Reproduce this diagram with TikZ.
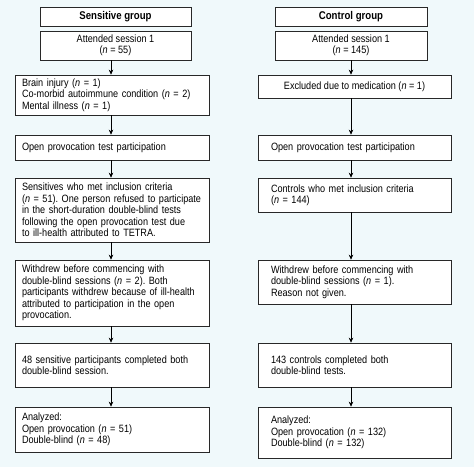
\documentclass[tikz,border=0pt]{standalone}
\usepackage{fontspec}
\setmainfont{Liberation Sans}[FakeStretch=0.86]
\usetikzlibrary{arrows.meta}
\definecolor{bgc}{RGB}{240,249,251}
\definecolor{linec}{RGB}{40,40,40}
\frenchspacing
\begin{document}
\begin{tikzpicture}[x=1pt,y=-1pt,
  box/.style={draw=linec,line width=0.7pt,fill=white,rectangle,inner sep=0pt,font=\fontsize{10.6}{11.4}\selectfont},
  lbox/.style={box,minimum width=194pt,text width=180pt,align=left},
  rbox/.style={box,minimum width=193pt,text width=167pt,align=left},
  cbox/.style={box,align=center},
  hbox/.style={cbox,font=\fontsize{11.2}{12}\selectfont\bfseries},
  arr/.style={-{Stealth[length=5pt,width=4.5pt]},line width=0.7pt,draw=black}]
\fill[bgc] (0,0) rectangle (474,467);
\useasboundingbox (0,0) rectangle (474,467);
\coordinate (lx) at (111,0);
\coordinate (rx) at (351,0);
% left column
\node[hbox,minimum width=151pt,minimum height=19pt] (lh) at (115.5,16.5) {Sensitive group};
\node[cbox,minimum width=151pt,minimum height=29pt] (la) at (115.5,45.5) {Attended session 1\\(\textit{n} = 55)};
\node[lbox,minimum height=40pt] (lb) at (112,95) {Brain injury (\textit{n} = 1)\\Co-morbid autoimmune condition (\textit{n} = 2)\\Mental illness (\textit{n} = 1)};
\node[lbox,minimum height=25pt] (lc) at (112,147.5) {Open provocation test participation};
\node[lbox,minimum height=64pt] (ld) at (112,210) {Sensitives who met inclusion criteria\\(\textit{n} = 51). One person refused to participate\\in the short-duration double-blind tests\\following the open provocation test due\\to ill-health attributed to TETRA.};
\node[lbox,minimum height=66pt] (le) at (112,293) {Withdrew before commencing with\\double-blind sessions (\textit{n} = 2). Both\\participants withdrew because of ill-health\\attributed to participation in the open\\provocation.};
\node[lbox,minimum height=44pt] (lf) at (112,365) {48 sensitive participants completed both\\double-blind session.};
\node[lbox,minimum height=45pt] (lg) at (112,429.5) {Analyzed:\\Open provocation (\textit{n} = 51)\\Double-blind (\textit{n} = 48)};
% right column
\node[hbox,minimum width=152pt,minimum height=19pt] (rh) at (351,16.5) {Control group};
\node[cbox,minimum width=152pt,minimum height=29pt] (ra) at (351,45.5) {Attended session 1\\(\textit{n} = 145)};
\node[cbox,minimum width=193pt,minimum height=23pt] (rb) at (354.5,86.5) {Excluded due to medication (\textit{n} = 1)};
\node[rbox,minimum height=25pt] (rc) at (354.5,147.5) {Open provocation test participation};
\node[rbox,minimum height=34pt] (rd) at (354.5,195) {Controls who met inclusion criteria\\(\textit{n} = 144)};
\node[rbox,minimum height=44pt] (re) at (354.5,282) {Withdrew before commencing with\\double-blind sessions (\textit{n} = 1).\\Reason not given.};
\node[rbox,minimum height=44pt] (rf) at (354.5,365) {143 controls completed both\\double-blind tests.};
\node[rbox,minimum height=51pt] (rg) at (354.5,432.5) {Analyzed:\\Open provocation (\textit{n} = 132)\\Double-blind (\textit{n} = 132)};
% arrows
\foreach \a/\b in {la/lb,lb/lc,lc/ld,ld/le,le/lf,lf/lg}
  \draw[arr] (\a.south -| lx) -- (\b.north -| lx);
\foreach \a/\b in {ra/rb,rb/rc,rc/rd,rd/re,re/rf,rf/rg}
  \draw[arr] (\a.south -| rx) -- (\b.north -| rx);
\end{tikzpicture}
\end{document}
